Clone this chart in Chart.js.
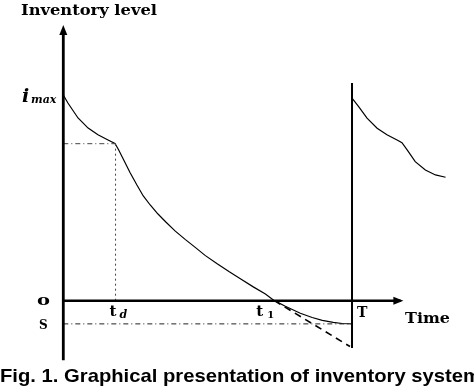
<!DOCTYPE html>
<html>
<head>
<meta charset="utf-8">
<script src="https://cdn.jsdelivr.net/npm/chart.js@4.4.0/dist/chart.umd.min.js"></script>
<style>
html, body { margin: 0; padding: 0; background: #fff; }
canvas { display: block; }
</style>
</head>
<body>
<canvas id="inventory-chart" width="474" height="389"></canvas>
<script>
// time units: T = 10, inventory units: i_max = 100
const cycleOneTime  = [0, 0.16, 0.51, 0.86, 1.20, 1.55, 1.79, 1.91, 2.08, 2.31, 2.55, 2.77, 3.01, 3.28, 3.56, 3.87, 4.22, 4.57, 4.91, 5.33, 5.75, 6.16, 6.58, 7.00, 7.31, 7.69, 8.21, 8.62, 8.97, 9.35, 9.66, 10];
const cycleOneLevel = [100, 96.1, 88.8, 83.9, 80.6, 78.1, 76.4, 73.5, 68.7, 62.3, 56.2, 50.9, 46.5, 42.1, 38.1, 33.9, 29.8, 25.9, 22.0, 17.9, 14.0, 10.4, 6.7, 3.2, 0, -2.7, -6.1, -8.2, -9.6, -10.6, -11.1, -11.3];

const cycleTwoTime  = [10, 10.23, 10.52, 10.87, 11.21, 11.56, 11.73, 11.91, 12.19, 12.54, 12.89, 13.24];
const cycleTwoLevel = [98.4, 94.3, 88.7, 83.8, 80.6, 78.1, 76.8, 73.3, 67.6, 63.5, 61.1, 60.0];

const shortageTime  = [7.31, 9.93];
const shortageLevel = [0, -22.3];

const tD = 1.81;
const tDLevel = 76.3;
const t1 = 7.31;
const T = 10;
const S = -11.3;
const tLineTop = 105.8;
const tLineBottom = -23;
const yAxisTop = 134;
const yAxisBottom = -29;
const xAxisEnd = 11.78;

function pts(xs, ys) {
    return xs.map((x, i) => ({x: x, y: ys[i]}));
}

function line(data, width, dash, color) {
    return {
        data: data,
        showLine: true,
        borderColor: color || '#000',
        borderWidth: width,
        borderDash: dash || [],
        pointRadius: 0,
        tension: 0,
        clip: false
    };
}

// draw text squeezed/stretched to a given width
function fitText(ctx, text, x, y, w) {
    const m = ctx.measureText(text).width;
    ctx.save();
    ctx.translate(x, y);
    ctx.scale(w / m, 1);
    ctx.fillText(text, 0, 0);
    ctx.restore();
}

const labelsPlugin = {
    id: 'labels',
    afterDraw(chart) {
        const ctx = chart.ctx;
        const xs = chart.scales.x;
        const ys = chart.scales.y;
        const px = v => xs.getPixelForValue(v);
        const py = v => ys.getPixelForValue(v);
        ctx.save();
        ctx.fillStyle = '#000';

        // arrow heads
        const ax = px(0), ay = py(yAxisTop);
        ctx.beginPath();
        ctx.moveTo(ax, ay);
        ctx.lineTo(ax - 4, ay + 10);
        ctx.lineTo(ax + 4, ay + 10);
        ctx.closePath();
        ctx.fill();
        const bx = px(xAxisEnd), by = py(0);
        ctx.beginPath();
        ctx.moveTo(bx, by);
        ctx.lineTo(bx - 10, by - 4);
        ctx.lineTo(bx - 10, by + 4);
        ctx.closePath();
        ctx.fill();

        ctx.textBaseline = 'alphabetic';
        ctx.textAlign = 'left';
        ctx.font = 'bold 14px "DejaVu Serif"';
        fitText(ctx, 'Inventory level', 21, 15, 136);

        ctx.font = 'italic bold 19px "DejaVu Serif"';
        ctx.fillText('i', 22, py(100) + 7);
        ctx.font = 'italic bold 11px "DejaVu Serif"';
        ctx.fillText('max', 31, py(100) + 8);

        ctx.font = 'bold 15px "DejaVu Serif"';
        fitText(ctx, 'o', 37, py(0) + 4, 13);
        ctx.font = 'bold 12px "DejaVu Serif"';
        ctx.fillText('S', 39, py(S) + 5);

        ctx.font = 'bold 15px "DejaVu Serif"';
        ctx.fillText('t', px(tD) - 6, py(0) + 15);
        ctx.font = 'italic bold 11px "DejaVu Serif"';
        ctx.fillText('d', px(tD) + 4, py(0) + 17);

        ctx.font = 'bold 15px "DejaVu Serif"';
        ctx.fillText('t', px(t1) - 18, py(0) + 15);
        ctx.font = 'bold 10px "DejaVu Serif"';
        ctx.fillText('1', px(t1) - 7, py(0) + 17);

        ctx.font = 'bold 14px "DejaVu Serif"';
        ctx.fillText('T', px(T) + 5, py(0) + 16);
        ctx.font = 'bold 15px "DejaVu Serif"';
        fitText(ctx, 'Time', 405, 323, 45);

        ctx.font = 'bold 19px "Liberation Sans"';
        fitText(ctx, 'Fig. 1. Graphical presentation of inventory system', 0, 382, 481);
        ctx.restore();
    }
};

const chart = new Chart(document.getElementById('inventory-chart'), {
    type: 'scatter',
    data: {
        datasets: [
            line(pts([0, 0], [yAxisBottom, yAxisTop - 3]), 2.8),
            line(pts([0, xAxisEnd - 0.1], [0, 0]), 2.5),
            line(pts([T, T], [tLineTop, tLineBottom]), 2),
            line(pts([0, tD], [tDLevel, tDLevel]), 1, [5, 3, 1, 3], '#444'),
            line(pts([tD, tD], [tDLevel, 0]), 1, [2, 3], '#444'),
            line(pts([0, T], [S, S]), 1, [5, 3, 1, 3], '#222'),
            line(pts(shortageTime, shortageLevel), 1.6, [7, 5]),
            line(pts(cycleOneTime, cycleOneLevel), 1.2),
            line(pts(cycleTwoTime, cycleTwoLevel), 1.2)
        ]
    },
    options: {
        responsive: false,
        devicePixelRatio: 1,
        animation: false,
        layout: {
            padding: {left: 63.3, right: 6.5, top: 25, bottom: 28.7}
        },
        scales: {
            x: {type: 'linear', min: 0, max: 14, display: false},
            y: {type: 'linear', min: yAxisBottom, max: yAxisTop, display: false}
        },
        plugins: {
            legend: {display: false},
            tooltip: {enabled: false}
        }
    },
    plugins: [labelsPlugin]
});
</script>
</body>
</html>
